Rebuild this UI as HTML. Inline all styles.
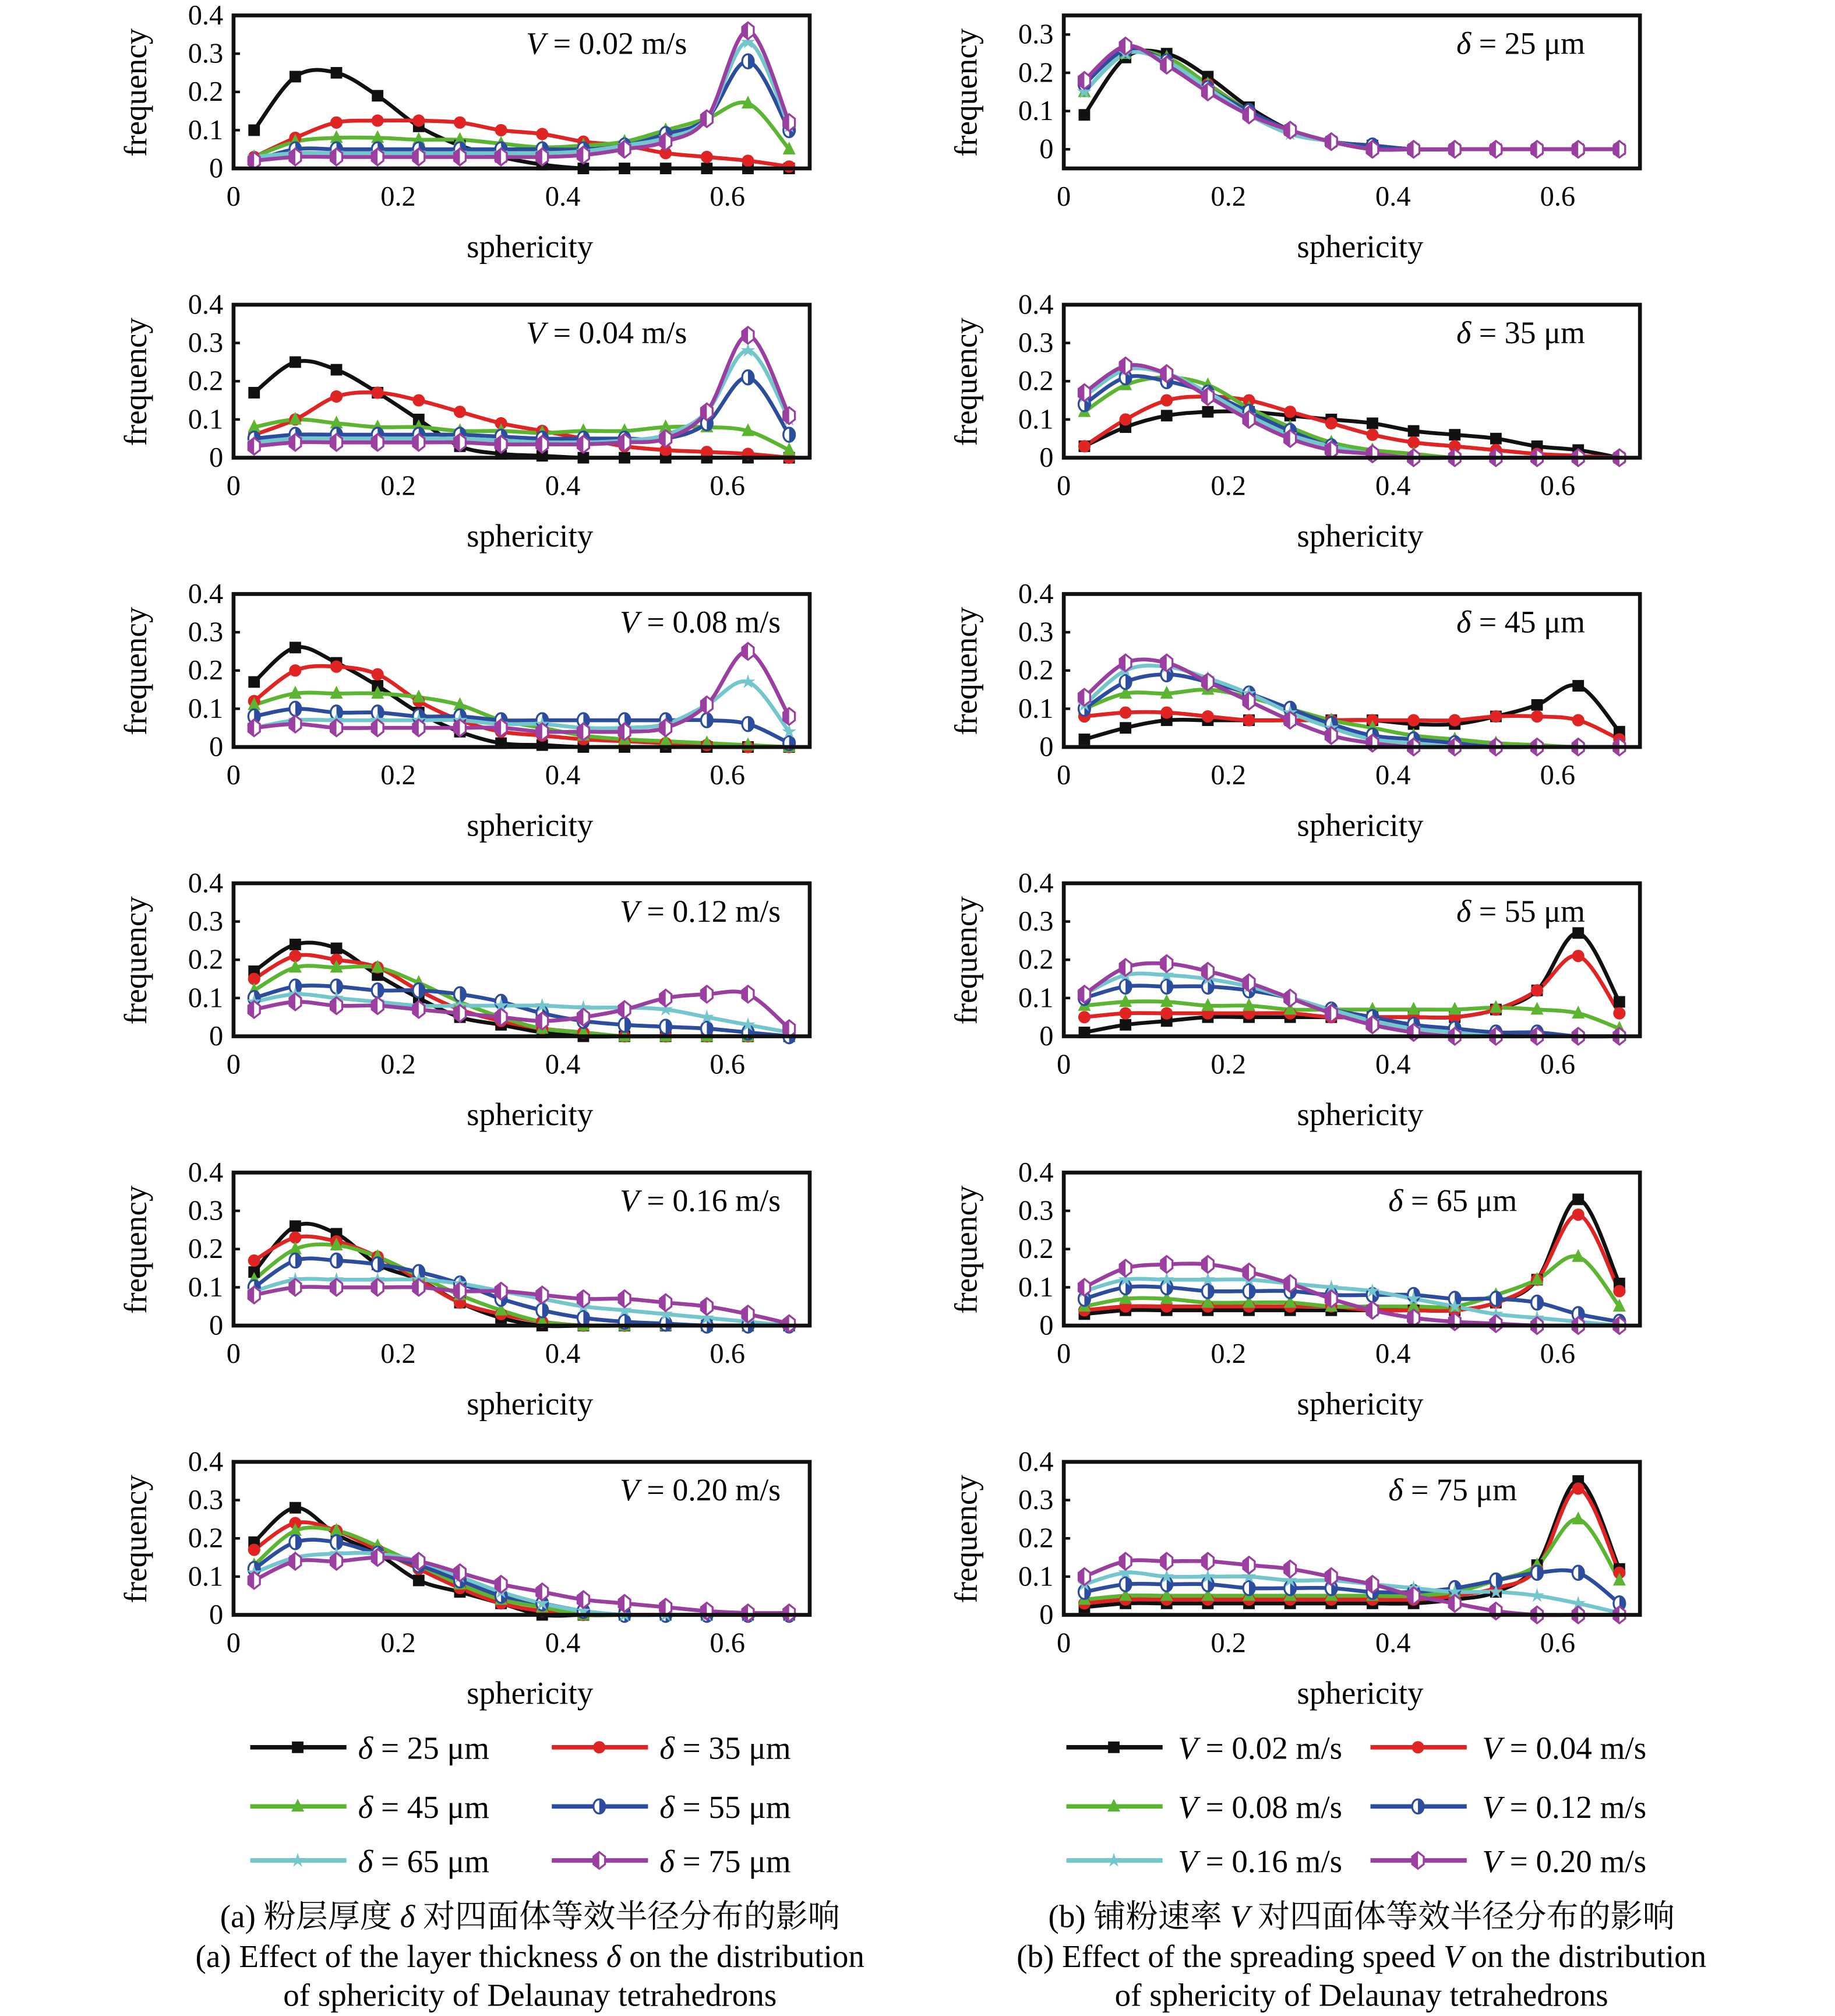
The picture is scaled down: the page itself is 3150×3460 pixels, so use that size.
<!DOCTYPE html>
<html><head><meta charset="utf-8">
<style>html,body{margin:0;padding:0;background:#fff}svg{display:block}</style>
</head><body>
<svg id="s" xmlns="http://www.w3.org/2000/svg" width="3150" height="3460" viewBox="0 0 1430 1568" preserveAspectRatio="none" font-family="'Liberation Serif','Noto Serif CJK SC',serif"></svg>
<script>
const S=document.getElementById('s');let h='';
const C=['#111111','#e02424','#5cb531','#2c4c9e','#72c6cc','#9a3f9f'];
const L=[
[[.10,.24,.25,.19,.11,.06,.03,.01,0,0,0,0,0,0],[.03,.08,.12,.125,.125,.12,.10,.09,.07,.06,.04,.03,.02,.005],[.03,.07,.08,.08,.075,.075,.065,.055,.06,.07,.10,.13,.17,.05],[.02,.05,.05,.05,.05,.05,.05,.05,.05,.06,.09,.13,.28,.10],[.03,.04,.04,.04,.04,.04,.04,.04,.045,.06,.08,.13,.33,.11],[.02,.03,.03,.03,.03,.03,.03,.03,.035,.05,.07,.13,.36,.12]],
[[.17,.25,.23,.17,.10,.03,.01,.005,0,0,0,0,0,0],[.06,.10,.16,.17,.15,.12,.09,.07,.05,.03,.02,.015,.01,0],[.08,.10,.09,.08,.08,.07,.07,.065,.07,.07,.08,.08,.07,.02],[.05,.06,.06,.06,.06,.06,.055,.05,.05,.05,.05,.09,.21,.06],[.04,.05,.05,.05,.05,.05,.045,.04,.04,.045,.06,.12,.28,.10],[.03,.04,.04,.04,.04,.04,.035,.035,.035,.04,.05,.12,.32,.11]],
[[.17,.26,.22,.16,.09,.04,.01,.005,0,0,0,0,0,0],[.12,.20,.21,.19,.12,.07,.04,.03,.02,.015,.01,.005,0,0],[.11,.14,.14,.14,.13,.11,.07,.05,.03,.02,.015,.01,.005,0],[.08,.10,.09,.09,.08,.08,.07,.07,.07,.07,.07,.07,.06,.01],[.05,.07,.07,.07,.07,.07,.06,.06,.05,.05,.06,.11,.17,.04],[.05,.06,.05,.05,.05,.05,.05,.04,.04,.04,.05,.11,.25,.08]],
[[.17,.24,.23,.16,.10,.05,.03,.01,0,0,0,0,0,0],[.15,.21,.20,.18,.12,.07,.04,.02,.01,0,0,0,0,0],[.12,.18,.18,.18,.14,.09,.05,.02,.01,0,0,0,0,0],[.10,.13,.13,.12,.12,.11,.09,.06,.04,.03,.025,.02,.01,0],[.09,.11,.10,.09,.08,.08,.08,.08,.075,.075,.07,.05,.03,.01],[.07,.09,.08,.08,.07,.06,.05,.04,.05,.07,.10,.11,.11,.02]],
[[.14,.26,.24,.16,.12,.06,.02,0,0,0,0,0,0,0],[.17,.23,.22,.18,.12,.06,.03,.01,0,0,0,0,0,0],[.12,.20,.21,.18,.13,.08,.04,.01,0,0,0,0,0,0],[.10,.17,.17,.16,.14,.11,.07,.04,.02,.01,.005,0,0,0],[.09,.12,.12,.12,.12,.11,.09,.07,.05,.04,.03,.02,.01,0],[.08,.10,.10,.10,.10,.09,.09,.08,.07,.07,.06,.05,.03,.005]],
[[.19,.28,.21,.16,.09,.06,.03,0,0,0,0,0,0,0],[.17,.24,.22,.17,.12,.07,.03,.01,0,0,0,0,0,0],[.13,.22,.22,.18,.13,.08,.04,.02,0,0,0,0,0,0],[.12,.19,.19,.16,.13,.09,.05,.03,.01,0,0,0,0,0],[.11,.15,.16,.16,.14,.10,.06,.03,.01,0,0,0,0,0],[.09,.14,.14,.15,.14,.11,.08,.06,.04,.03,.02,.01,.005,.005]]];
const R=[
[[.09,.24,.25,.19,.11,.05,.02,.01,0,0,0,0,0,0],[.17,.26,.23,.17,.10,.05,.02,.01,0,0,0,0,0,0],[.15,.25,.24,.17,.10,.05,.02,0,0,0,0,0,0,0],[.17,.26,.23,.16,.10,.05,.02,.01,0,0,0,0,0,0],[.15,.25,.23,.16,.09,.04,.02,0,0,0,0,0,0,0],[.18,.27,.22,.15,.09,.05,.02,0,0,0,0,0,0,0]],
[[.03,.08,.11,.12,.12,.11,.10,.09,.07,.06,.05,.03,.02,0],[.03,.10,.15,.16,.15,.12,.09,.06,.04,.03,.02,.01,.005,0],[.12,.19,.21,.19,.13,.08,.04,.02,.01,0,0,0,0,0],[.14,.21,.20,.17,.12,.07,.03,.01,0,0,0,0,0,0],[.16,.23,.22,.17,.11,.06,.03,.01,0,0,0,0,0,0],[.17,.24,.22,.16,.10,.05,.02,.01,0,0,0,0,0,0]],
[[.02,.05,.07,.07,.07,.07,.07,.07,.06,.06,.08,.11,.16,.04],[.08,.09,.09,.08,.07,.07,.07,.07,.07,.07,.08,.08,.07,.02],[.10,.14,.14,.15,.13,.10,.07,.05,.03,.02,.01,.005,0,0],[.10,.17,.19,.17,.14,.10,.06,.03,.02,.01,0,0,0,0],[.11,.20,.21,.18,.14,.09,.05,.02,.01,0,0,0,0,0],[.13,.22,.22,.17,.12,.07,.03,.01,0,0,0,0,0,0]],
[[.01,.03,.04,.05,.05,.05,.05,.05,.05,.05,.07,.12,.27,.09],[.05,.06,.06,.06,.06,.06,.05,.05,.05,.05,.07,.12,.21,.06],[.08,.09,.09,.08,.08,.07,.07,.07,.07,.07,.075,.07,.06,.02],[.10,.13,.13,.13,.12,.10,.07,.05,.03,.02,.01,.01,0,0],[.11,.16,.16,.15,.13,.10,.07,.04,.02,.01,0,0,0,0],[.11,.18,.19,.17,.14,.10,.06,.03,.01,0,0,0,0,0]],
[[.03,.04,.04,.04,.04,.04,.04,.04,.04,.04,.06,.12,.33,.11],[.04,.05,.05,.05,.05,.05,.05,.04,.04,.04,.06,.12,.29,.09],[.05,.07,.07,.06,.06,.06,.05,.05,.05,.05,.08,.12,.18,.05],[.07,.10,.10,.09,.09,.09,.08,.08,.08,.07,.07,.06,.03,.01],[.09,.12,.12,.12,.12,.11,.10,.09,.07,.05,.03,.02,.01,0],[.10,.15,.16,.16,.14,.11,.07,.04,.02,.01,.005,0,0,0]],
[[.02,.03,.03,.03,.03,.03,.03,.03,.03,.04,.06,.13,.35,.12],[.03,.04,.04,.04,.04,.04,.04,.04,.04,.05,.07,.12,.33,.11],[.04,.05,.05,.05,.05,.05,.05,.05,.05,.06,.09,.13,.25,.09],[.06,.08,.08,.08,.07,.07,.07,.06,.06,.07,.09,.11,.11,.03],[.08,.11,.10,.10,.10,.09,.09,.08,.07,.06,.06,.05,.03,.005],[.10,.14,.14,.14,.13,.12,.10,.08,.05,.03,.01,0,0,0]]];
const LA=['0.02','0.04','0.08','0.12','0.16','0.20'];
const RA=['25','35','45','55','65','75'];
function marker(i,x,y){
 const c=C[i];
 if(i==0)return `<rect x="${x-4.5}" y="${y-4.5}" width="9" height="9" fill="${c}"/>`;
 if(i==1)return `<circle cx="${x}" cy="${y}" r="4.8" fill="${c}"/>`;
 if(i==2)return `<polygon points="${x},${y-6} ${x-5},${y+4} ${x+5},${y+4}" fill="${c}"/>`;
 if(i==3)return `<ellipse cx="${x}" cy="${y}" rx="4.5" ry="5.5" fill="#fff" stroke="${c}" stroke-width="1.5"/><path d="M${x} ${y-5.5}A4.5 5.5 0 0 1 ${x} ${y+5.5}Z" fill="${c}"/>`;
 if(i==4){let p='';for(let k=0;k<10;k++){const a=-Math.PI/2+k*Math.PI/5,r=k%2?2.2:6;p+=(x+r*Math.cos(a)).toFixed(1)+','+(y+r*Math.sin(a)).toFixed(1)+' ';}return `<polygon points="${p}" fill="${c}"/>`;}
 return `<polygon points="${x},${y-6.5} ${x+4.5},${y-3} ${x+4.5},${y+3} ${x},${y+6.5} ${x-4.5},${y+3} ${x-4.5},${y-3}" fill="#fff" stroke="${c}" stroke-width="1.5"/><polygon points="${x},${y-6.5} ${x-4.5},${y-3} ${x-4.5},${y+3} ${x},${y+6.5}" fill="${c}"/>`;
}
function curve(p){let d=`M${p[0][0]} ${p[0][1]}`;for(let i=0;i<p.length-1;i++){const a=p[Math.max(0,i-1)],b=p[i],c=p[i+1],e=p[Math.min(p.length-1,i+2)];d+=`C${(b[0]+(c[0]-a[0])/6).toFixed(1)} ${(b[1]+(c[1]-a[1])/6).toFixed(1)} ${(c[0]-(e[0]-b[0])/6).toFixed(1)} ${(c[1]-(e[1]-b[1])/6).toFixed(1)} ${c[0].toFixed(1)} ${c[1].toFixed(1)}`;}return d;}
function panel(x0,top,data,label,lx,ymin,ticks){
 const w=449,hh=119,bot=top+hh;
 const X=v=>x0+v/0.7*w,Y=v=>bot-(v-ymin)/0.4*hh;
 for(let s=0;s<6;s++){const pts=data[s].map((v,k)=>[X(0.025+0.05*k),Y(v)]);h+=`<path d="${curve(pts)}" fill="none" stroke="${C[s]}" stroke-width="3"/>`;}
 for(let s=0;s<6;s++)data[s].forEach((v,k)=>h+=marker(s,X(0.025+0.05*k),Y(v)));
 h+=`<rect x="${x0}" y="${top}" width="${w}" height="${hh}" fill="none" stroke="#111" stroke-width="3"/>`;
 ticks.forEach(t=>{const y=Y(t);h+=`<line x1="${x0}" y1="${y}" x2="${x0+5}" y2="${y}" stroke="#111" stroke-width="2"/><text x="${x0-8}" y="${y+7}" font-size="22" text-anchor="end">${t}</text>`;});
 [0,0.2,0.4,0.6].forEach(t=>h+=`<text x="${X(t)}" y="${bot+29}" font-size="22" text-anchor="middle">${t}</text>`);
 h+=`<text x="${x0+231}" y="${bot+69}" font-size="25" text-anchor="middle">sphericity</text>`;
 h+=`<text transform="translate(${x0-68},${top+60}) rotate(-90)" font-size="25" text-anchor="middle">frequency</text>`;
 h+=`<text x="${lx}" y="${top+30}" font-size="24.5">${label}</text>`;
}
for(let r=0;r<6;r++){
 const top=12+225*r;
 panel(182,top,L[r],`<tspan font-style="italic">V</tspan> = ${LA[r]} m/s`,r==0||r==1?410:483,0,[0,0.1,0.2,0.3,0.4]);
 panel(829,top,R[r],`<tspan font-style="italic">δ</tspan> = ${RA[r]} μm`,r>=4?1082:1135,r==0?-0.05:0,r==0?[0,0.1,0.2,0.3]:[0,0.1,0.2,0.3,0.4]);
}
const LY=[1359,1405,1447];
const LL=['25','35','45','55','65','75'],VV=['0.02','0.04','0.08','0.12','0.16','0.20'];
for(let i=0;i<6;i++){const row=Math.floor(i/2),col=i%2,y=LY[row];
 let x=col?430:195;h+=`<line x1="${x}" y1="${y}" x2="${x+75}" y2="${y}" stroke="${C[i]}" stroke-width="3.5"/>`+marker(i,x+37,y)+`<text x="${x+84}" y="${y+9}" font-size="25"><tspan font-style="italic">δ</tspan> = ${LL[i]} μm</text>`;
 x=col?1068:831;h+=`<line x1="${x}" y1="${y}" x2="${x+75}" y2="${y}" stroke="${C[i]}" stroke-width="3.5"/>`+marker(i,x+37,y)+`<text x="${x+87}" y="${y+9}" font-size="25"><tspan font-style="italic">V</tspan> = ${VV[i]} m/s</text>`;}
const cap=[[413,'(a) 粉层厚度 <tspan font-style="italic">δ</tspan> 对四面体等效半径分布的影响','(a) Effect of the layer thickness <tspan font-style="italic">δ</tspan> on the distribution'],[1061,'(b) 铺粉速率 <tspan font-style="italic">V</tspan> 对四面体等效半径分布的影响','(b) Effect of the spreading speed <tspan font-style="italic">V</tspan> on the distribution']];
cap.forEach(c=>{h+=`<text x="${c[0]}" y="1499" font-size="25" text-anchor="middle">${c[1]}</text><text x="${c[0]}" y="1530" font-size="25" text-anchor="middle">${c[2]}</text><text x="${c[0]}" y="1560" font-size="25" text-anchor="middle">of sphericity of Delaunay tetrahedrons</text>`;});
S.innerHTML=h;
</script>
</body></html>
